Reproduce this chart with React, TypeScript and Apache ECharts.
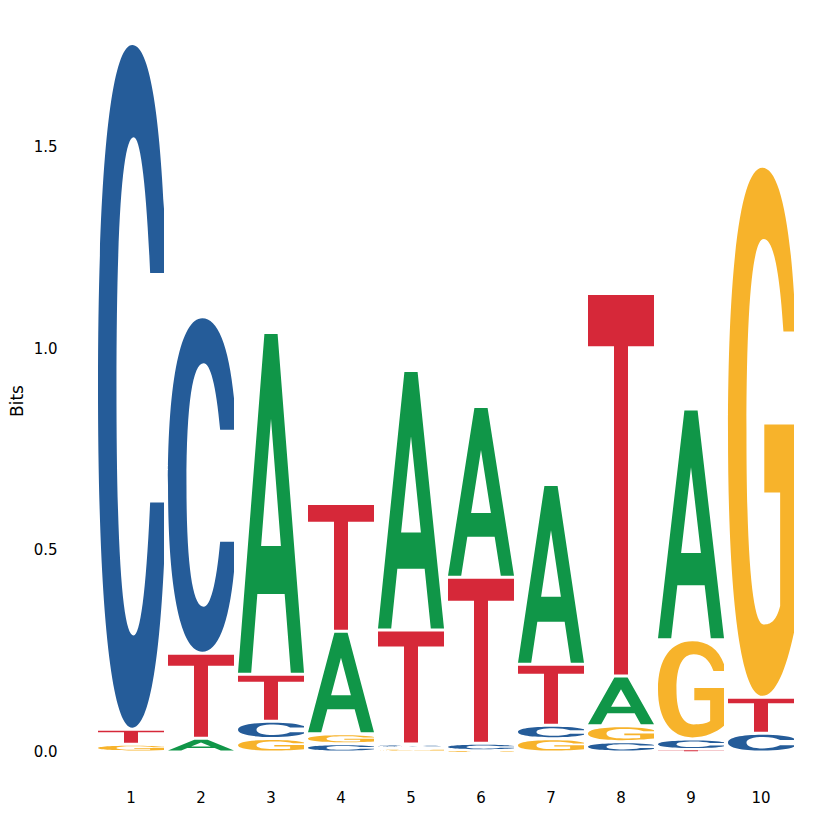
import React, { useEffect, useRef } from "react";
import * as echarts from "echarts";

// Sequence-logo data (bits per letter at each position)
const positions = ["1", "2", "3", "4", "5", "6", "7", "8", "9", "10"];
const letters = ["A", "C", "G", "T"];
const heightsA = [0, 0.0338, 0.8472, 0.254, 0.6427, 0.4234, 0.4457, 0.1234, 0.5721, 0];
const heightsC = [1.6994, 0.8337, 0.0429, 0.0202, 0.0105, 0.0184, 0.0332, 0.0257, 0.0265, 0.0462];
const heightsG = [0.0193, 0, 0.0335, 0.0248, 0.0095, 0.003, 0.0328, 0.0393, 0.2457, 1.3164];
const heightsT = [0.0372, 0.211, 0.1161, 0.3169, 0.2825, 0.4114, 0.1512, 0.948, 0.006, 0.0892];
const yTicks = [0, 0.5, 1.0, 1.5];
const yTitle = "Bits";

const COLORS = ["#109648", "#255C99", "#F7B32B", "#D62839"];

// Glyph outlines in a 100x100 box (stretched to each cell)
const GLYPHS = [
  // A
  "M0,100 L40,0 L60,0 L100,100 L80,100 L70.7,76.7 L29.3,76.7 L20,100 Z M50,25 L35,62.6 L65,62.6 Z",
  // C
  "M100,33.4 L100,24 C92,8 75,0 52,0 C20,0 0,18 0,50 C0,82 20,100 52,100 C75,100 92,92 100,76 L100,67 L79,67 C73,80 64,86.5 54,86.5 C38,86.5 28,75 28,50 C28,25 38,13.5 54,13.5 C64,13.5 73,20 79,33.4 Z",
  // G
  "M100,31 L100,24 C92,8 75,0 52,0 C20,0 0,18 0,50 C0,82 20,100 52,100 C72,100 88,95 100,88 L100,48.6 L55,48.6 L55,61.5 L79,61.5 L79,83 C73,86 64,86.5 54,86.5 C38,86.5 28,75 28,50 C28,25 38,13.5 54,13.5 C68,13.5 78,19 84,31 Z",
  // T
  "M0,0 L100,0 L100,13.5 L60.6,13.5 L60.6,100 L39.4,100 L39.4,13.5 L0,13.5 Z",
];

function buildData() {
  const all = [heightsA, heightsC, heightsG, heightsT];
  const out: number[][] = [];
  for (let i = 0; i < positions.length; i++) {
    const items = letters
      .map((_, li) => ({ li, v: all[li][i] }))
      .filter((d) => d.v > 0)
      .sort((a, b) => a.v - b.v);
    let acc = 0;
    for (const it of items) {
      out.push([i, acc, acc + it.v, it.li]);
      acc += it.v;
    }
  }
  return out;
}

export default function App() {
  const ref = useRef<HTMLDivElement>(null);
  useEffect(() => {
    const chart = echarts.init(ref.current!, null, { renderer: "svg" });
    const pad = 1.5;
    const option = {
      animation: false,
      backgroundColor: "#ffffff",
      grid: { left: 96, right: 44, top: 9.56, bottom: 88, containLabel: false },
      graphic: [
        {
          type: "text",
          x: 17,
          y: 401,
          rotation: Math.PI / 2,
          style: {
            text: yTitle,
            fontSize: 17,
            fill: "#000",
            fontFamily: "DejaVu Sans",
            textAlign: "center",
            textVerticalAlign: "middle",
          },
        },
      ],
      xAxis: {
        type: "category",
        data: positions,
        axisLine: { show: false },
        axisTick: { show: false },
        splitLine: { show: false },
        axisLabel: { fontSize: 15, color: "#000", fontFamily: "DejaVu Sans", margin: 38.5 },
      },
      yAxis: {
        type: "value",
        min: 0,
        max: 1.84,
        interval: 0.5,
        axisLine: { show: false },
        axisTick: { show: false },
        splitLine: { show: false },
        axisLabel: {
          fontSize: 15,
          color: "#000",
          fontFamily: "DejaVu Sans",
          margin: 38.5,
          showMaxLabel: false,
          formatter: (v: number) => (yTicks.indexOf(v) >= 0 ? v.toFixed(1) : ""),
        },
      },
      series: [
        {
          type: "custom",
          encode: { x: 0, y: [1, 2] },
          data: buildData(),
          renderItem: (params: any, api: any) => {
            const xi = api.value(0);
            const y0 = api.value(1);
            const y1 = api.value(2);
            const li = api.value(3);
            const p0 = api.coord([xi, y0]);
            const p1 = api.coord([xi, y1]);
            const bw = api.size([1, 0])[0];
            const w = (bw * 66) / 70;
            let top = p1[1] + pad;
            let h = p0[1] - p1[1] - 2 * pad;
            if (h < 0.9) {
              const mid = (p0[1] + p1[1]) / 2;
              h = 0.9;
              top = mid - 0.45;
            }
            return {
              type: "path",
              shape: { pathData: GLYPHS[li], x: p0[0] - w / 2, y: top, width: w, height: h, layout: "cover" },
              style: { fill: COLORS[li] },
            };
          },
        },
      ],
    };
    chart.setOption(option as any);
    return () => chart.dispose();
  }, []);
  return (
    <div
      ref={ref}
      style={{ position: "fixed", left: 0, top: 0, width: 840, height: 840, background: "#fff" }}
    />
  );
}
